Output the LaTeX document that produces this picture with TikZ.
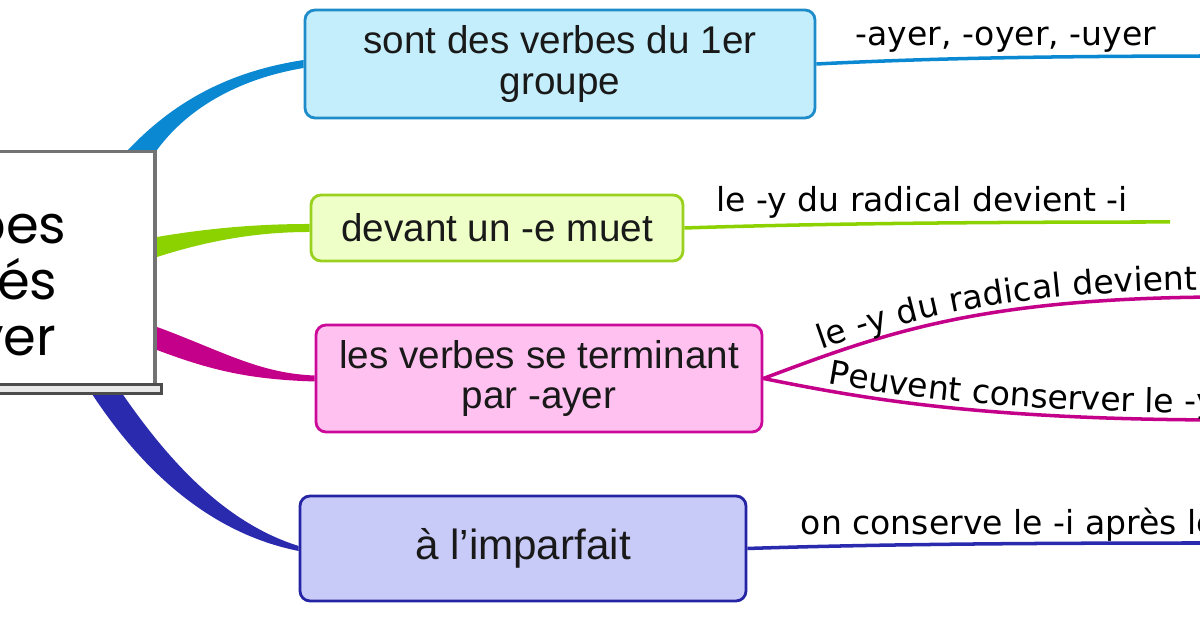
\documentclass[tikz,border=0pt]{standalone}
\usepackage{fontspec}
\setmainfont{Liberation Sans}
\newfontfamily\titlefont{Poppins}
\newfontfamily\lblfont{DejaVu Sans}
\usetikzlibrary{backgrounds,decorations.text}
\definecolor{groupefill}{HTML}{C4EEFC}
\definecolor{groupedraw}{HTML}{1E8CC8}
\definecolor{branchblue}{HTML}{0A88D2}
\definecolor{muetfill}{HTML}{EEFFC8}
\definecolor{muetdraw}{HTML}{99D11E}
\definecolor{branchgreen}{HTML}{8CD200}
\definecolor{ayerfill}{HTML}{FFC2F0}
\definecolor{ayerdraw}{HTML}{CC0A99}
\definecolor{branchpink}{HTML}{C4008A}
\definecolor{impfill}{HTML}{C8CAF8}
\definecolor{impdraw}{HTML}{2424A4}
\definecolor{branchnavy}{HTML}{2A2AAE}
\newcommand\lblstyle{\lblfont\fontsize{9.4}{11}\selectfont\color{black}}
\tikzset{
  board/.style={shape=rectangle,draw=black!55,line width=1pt,fill=white,minimum width=3cm,minimum height=2.35cm},
  tray/.style={shape=rectangle,draw=black!70,line width=0.8pt,fill=black!9,minimum width=3.1cm,minimum height=0.09cm,inner sep=0pt},
  title/.style={font=\titlefont\fontsize{15}{16}\selectfont,align=right,inner sep=0pt},
  topic/.style={shape=rectangle,rounded corners=0.1cm,line width=0.8pt,align=center,text=black!90,font=\fontsize{11}{11.5}\selectfont},
  lbl/.style={font=\lblstyle,text=black,inner sep=1pt},
  sub/.style={line width=1pt},
  along/.style={postaction={decorate,decoration={text along path,text={|\lblstyle|#1},raise=2pt,text align={left indent=0.64cm}}}}
}
\begin{document}
\begin{tikzpicture}
\useasboundingbox (0,0) rectangle (12,6.3);
\node[board,anchor=north east] (board) at (1.57,4.80) {};
\node[tray,anchor=north east] (tray) at (1.63,2.47) {};
\node[title,anchor=east] (title) at (0.67,3.50) {bes\\\mbox{nés\hspace{0.09cm}}\\\mbox{ver\hspace{0.10cm}}};
\node[topic,draw=groupedraw,fill=groupefill,minimum width=5.10cm,minimum height=1.08cm] (groupe) at (5.60,5.66) {sont des verbes du 1er\\groupe};
\node[topic,draw=muetdraw,fill=muetfill,minimum width=3.72cm,minimum height=0.66cm] (muet) at (4.97,4.02) {devant un -e muet};
\node[topic,draw=ayerdraw,fill=ayerfill,minimum width=4.46cm,minimum height=1.07cm] (ayer) at (5.39,2.515) {les verbes se terminant\\par -ayer};
\node[topic,draw=impdraw,fill=impfill,minimum width=4.46cm,minimum height=1.05cm,font=\fontsize{12}{13}\selectfont] (imparfait) at (5.23,0.815) {à l'imparfait};
\coordinate (ayerend) at (12.3,5.74);
\coordinate (muetend) at (11.70,4.08);
\coordinate (devend) at (12.3,3.33);
\coordinate (conend) at (12.3,2.10);
\coordinate (impend) at (12.3,0.87);
\begin{scope}[on background layer]
\fill[branchblue] ([xshift=-0.29cm]board.north east) .. controls +(0.52,0.55) and +(-0.65,-0.10) .. ([yshift=0.04cm]groupe.west) -- ([yshift=-0.04cm]groupe.west) .. controls +(-0.60,-0.10) and +(0.33,0.45) .. (board.north east) -- cycle;
\fill[branchgreen] ([yshift=-0.87cm]board.north east) .. controls +(0.53,0.09) and +(-0.51,0) .. ([yshift=0.04cm]muet.west) -- ([yshift=-0.04cm]muet.west) .. controls +(-0.51,0) and +(0.53,0.17) .. ([yshift=-1.07cm]board.north east) -- cycle;
\fill[branchpink] ([yshift=-1.77cm]board.north east) .. controls +(0.63,-0.23) and +(-0.56,0.02) .. ([yshift=0.03cm]ayer.west) -- ([yshift=-0.03cm]ayer.west) .. controls +(-0.66,0.02) and +(0.53,-0.20) .. ([yshift=-2.00cm]board.north east) -- cycle;
\fill[branchnavy] ([xshift=-0.78cm]tray.north east) .. controls +(0.45,-0.72) and +(-1.0,0.2) .. ([yshift=-0.025cm]imparfait.west) -- ([yshift=0.025cm]imparfait.west) .. controls +(-0.80,0.25) and +(0.45,-0.67) .. ([xshift=-0.48cm]tray.north east) -- cycle;
\end{scope}
\draw[sub,branchblue] (groupe.east) .. controls +(1.0,0.05) and +(-2.0,0) .. (ayerend) node[lbl,pos=0.55,above] {-ayer, -oyer, -uyer};
\draw[sub,branchgreen] (muet.east) .. controls +(1.5,0.05) and +(-1.5,0) .. (muetend) node[lbl,pos=0.49,above] {le -y du radical devient -i};
\draw[sub,branchpink,along={le -y du radical devient}] (ayer.east) .. controls +(1.2,0.45) and +(-2.5,0) .. (devend);
\draw[sub,branchpink,along={Peuvent conserver le -y}] (ayer.east) .. controls +(1.0,-0.2) and +(-2.5,0) .. (conend);
\draw[sub,branchnavy] (imparfait.east) .. controls +(1.5,0.05) and +(-1.5,0) .. (impend) node[lbl,pos=0.105,anchor=south west] {on conserve le -i après le};
\end{tikzpicture}
\end{document}
